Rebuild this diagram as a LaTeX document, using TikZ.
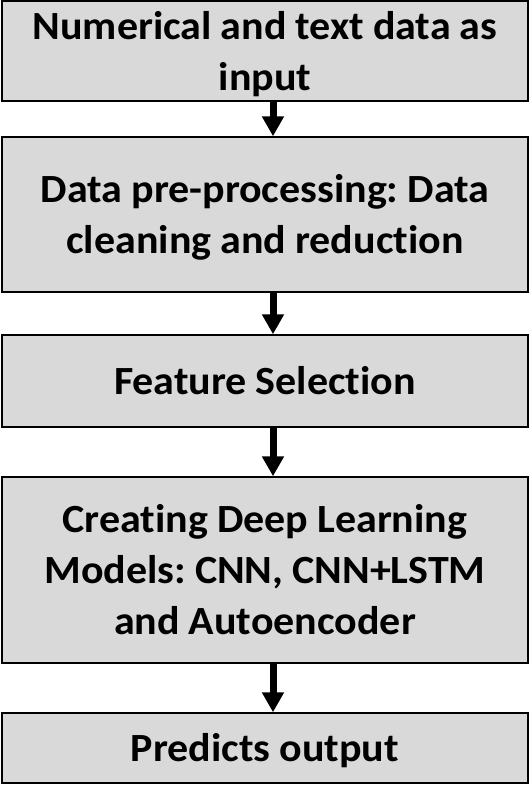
\documentclass[tikz,border=0pt]{standalone}
\usepackage{fontspec}
\setmainfont{Carlito}[Ligatures=CommonOff, FakeStretch=1.05]
\usetikzlibrary{arrows.meta}
\definecolor{boxgray}{HTML}{D9D9D9}
\newcommand{\vstrut}{\rule[-11pt]{0pt}{49pt}}
\newcommand{\stagefont}{\bfseries\fontsize{40}{51}\selectfont\frenchspacing}
\tikzset{
  stagebox/.style={draw=black, line width=1.5pt, fill=boxgray, minimum width=526pt,
    text width=522pt, align=flush center, inner sep=0pt, font=\stagefont,
    execute at begin node={\spaceskip=9pt\relax\vstrut}, execute at end node=\vstrut},
  flowarrow/.style={line width=7pt, -{Triangle[width=21pt,length=20pt]}}
}
\begin{document}
\begin{tikzpicture}[x=1pt, y=-1pt]
\useasboundingbox (0,0) rectangle (531,787);
\node [stagebox, minimum height=98pt] (input) at (265,51) {Numerical and text data as\\input};
\node [stagebox, minimum height=155pt] (prep) at (265,214.5) {Data pre-processing: Data\\cleaning and reduction};
\node [stagebox, minimum height=92pt] (feat) at (265,381) {Feature Selection};
\node [stagebox, minimum height=186pt] (model) at (265,570) {Creating Deep Learning\\Models: CNN, CNN+LSTM\\and Autoencoder};
\node [stagebox, minimum height=70pt] (pred) at (265,748) {Predicts output};
\draw [flowarrow] ([xshift=8pt]input.south) -- ([xshift=8pt]prep.north);
\draw [flowarrow] ([xshift=8pt]prep.south) -- ([xshift=8pt]feat.north);
\draw [flowarrow] ([xshift=8pt]feat.south) -- ([xshift=8pt]model.north);
\draw [flowarrow] ([xshift=8pt]model.south) -- ([xshift=8pt]pred.north);
\end{tikzpicture}
\end{document}
